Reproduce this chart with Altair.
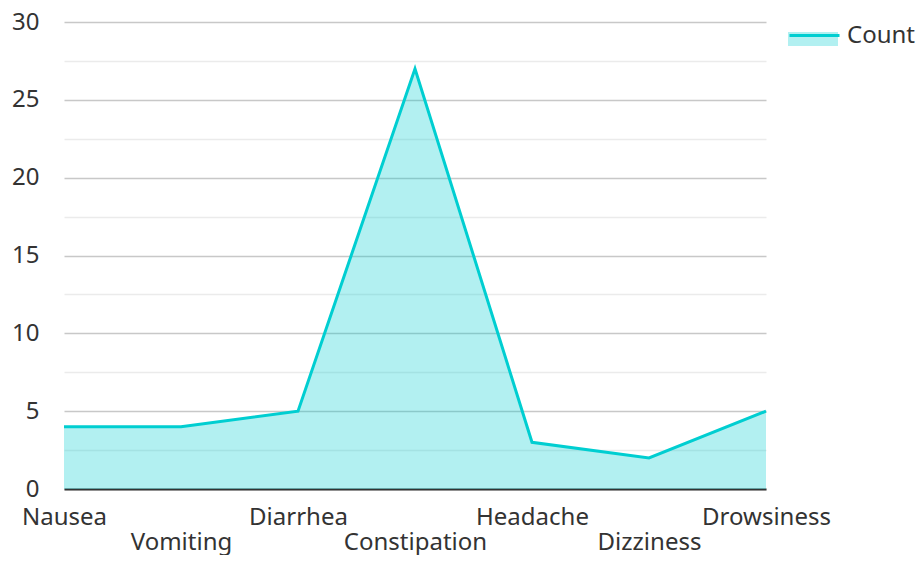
import altair as alt
import pandas as pd

categories = ["Nausea", "Vomiting", "Diarrhea", "Constipation", "Headache", "Dizziness", "Drowsiness"]
counts = [4, 4, 5, 27, 3, 2, 5]
series_name = "Count"
y_ticks = [0, 2.5, 5, 7.5, 10, 12.5, 15, 17.5, 20, 22.5, 25, 27.5, 30]

df = pd.DataFrame({
    "symptom": categories,
    "count": counts,
    "area_series": [series_name] * len(categories),
    "line_series": [series_name] * len(categories),
})

teal = "#00ced1"
font = "Noto Sans"
text_color = "#333333"

stagger = categories[1::2]
label_expr = f"indexof({stagger!r}, datum.label) >= 0 ? ['', datum.label] : datum.label"

x_enc = alt.X(
    "symptom:N",
    sort=categories,
    scale=alt.Scale(type="point", padding=0),
    axis=alt.Axis(
        title=None, labelAngle=0, ticks=False, labelPadding=16,
        labelFontSize=24, labelFont=font, labelColor=text_color,
        domainColor="#333333", domainWidth=2, grid=False,
        labelExpr=label_expr, labelLineHeight=25, labelOverlap=False,
        labelFlush=False,
    ),
)
y_enc = alt.Y(
    "count:Q",
    scale=alt.Scale(domain=[0, 30], nice=False),
    axis=alt.Axis(
        title=None, values=y_ticks,
        labelExpr="datum.value % 5 === 0 ? datum.label : ''",
        gridColor={"condition": {"test": "datum.value % 5 === 0", "value": "#c8c8c8"}, "value": "#ebebeb"},
        gridWidth=1.5, domain=False, ticks=False, labelPadding=25,
        labelFontSize=24, labelFont=font, labelColor=text_color,
    ),
)

lx, ly = 724, -13

area = alt.Chart(df).mark_area(opacity=0.3).encode(
    x=x_enc,
    y=y_enc,
    fill=alt.Fill(
        "area_series:N",
        scale=alt.Scale(range=[teal]),
        legend=alt.Legend(
            orient="none", legendX=lx, legendY=ly, title=None,
            symbolType="M-1,-0.08H1V0.48H-1Z", symbolSize=2500,
            symbolOpacity=0.3, symbolStrokeWidth=0, labelExpr="''",
            labelFontSize=24, labelFont=font, labelOffset=6,
        ),
    ),
)

line = alt.Chart(df).mark_line(strokeWidth=3).encode(
    x=x_enc,
    y=y_enc,
    stroke=alt.Stroke(
        "line_series:N",
        scale=alt.Scale(range=[teal]),
        legend=alt.Legend(
            orient="none", legendX=lx, legendY=ly, title=None,
            symbolType="stroke", symbolSize=2500, symbolStrokeWidth=3,
            labelFontSize=24, labelFont=font, labelColor=text_color,
            labelOffset=6,
        ),
    ),
)

chart = alt.layer(area, line).properties(
    width=702,
    height=467,
    padding={"left": 56, "top": 14, "right": 150, "bottom": 66},
    autosize=alt.AutoSizeParams(type="none"),
).configure_view(stroke=None)

chart.save("out.html", embed_options={"renderer": "svg", "actions": False})
